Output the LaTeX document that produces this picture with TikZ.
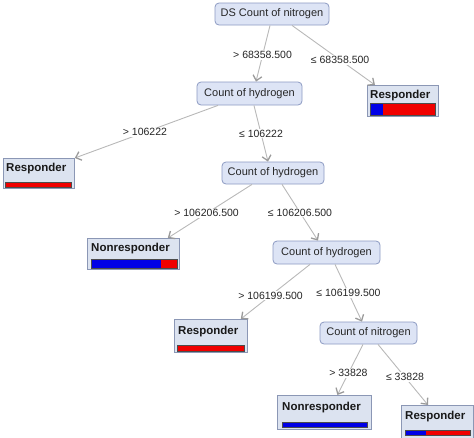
\documentclass[tikz,border=0pt]{standalone}
\usepackage{fontspec}
\setmainfont{Liberation Sans}
\usetikzlibrary{calc,arrows.meta}
\definecolor{ifill}{HTML}{DDE4F5}
\definecolor{idraw}{HTML}{8C9AC2}
\definecolor{lfill}{HTML}{DCE3F0}
\definecolor{ldraw}{HTML}{8B97B5}
\definecolor{edgec}{HTML}{B8B8B8}
\definecolor{tipc}{HTML}{9A9A9A}
\definecolor{barblue}{HTML}{0000E6}
\definecolor{barred}{HTML}{F00000}
\tikzset{
  inner/.style={draw=idraw, fill=ifill, rounded corners=4pt, line width=0.8pt,
    font=\fontsize{11}{12}\selectfont, text=black!85, inner sep=0pt},
  leaf/.style={draw=ldraw, fill=lfill, line width=0.8pt, inner sep=0pt},
  leaftext/.style={font=\fontsize{11.5}{12}\selectfont\bfseries, inner sep=0pt, anchor=north west, text=black!90},
  edge/.style={draw=edgec, line width=0.9pt, -{Straight Barb[length=5pt,width=9pt,line width=1.3pt,color=tipc]}},
  lbl/.style={fill=white, inner sep=1pt, font=\fontsize{10.5}{12}\selectfont, text=black!85},
  barline/.style={draw=black!70, line width=0.4pt}
}
\newcommand{\leafbar}[6]{%
  \fill[barred] ($(#1.south west)+(#2,-#3)$) rectangle ++(#4,-#5);
  \fill[barblue] ($(#1.south west)+(#2,-#3)$) rectangle ++(#6,-#5);
  \draw[barline] ($(#1.south west)+(#2,-#3)$) rectangle ++(#4,-#5);
}
\begin{document}
\begin{tikzpicture}[x=1pt,y=-1pt]
\useasboundingbox (0,0) rectangle (474,437);
% internal nodes
\node[inner, minimum width=114pt, minimum height=22pt] (root) at (272,14) {DS Count of nitrogen};
\node[inner, minimum width=105pt, minimum height=23pt] (h1) at (249.5,93.5) {Count of hydrogen};
\node[inner, minimum width=102pt, minimum height=22pt] (h2) at (273,173) {Count of hydrogen};
\node[inner, minimum width=107pt, minimum height=23pt] (h3) at (326.5,252.5) {Count of hydrogen};
\node[inner, minimum width=97pt, minimum height=22pt] (nit) at (368.5,333) {Count of nitrogen};
% leaves
\node[leaf, minimum width=71pt, minimum height=31pt, anchor=north west] (rr) at (367,85) {};
\node[leaftext] (rrt) at ($(rr.north west)+(3,5)$) {Responder};
\leafbar{rr}{3}{2}{65}{12}{13}
\node[leaf, minimum width=71pt, minimum height=30pt, anchor=north west] (rl) at (3,158) {};
\node[leaftext] (rlt) at ($(rl.north west)+(3,5)$) {Responder};
\leafbar{rl}{2}{2}{66}{5}{0}
\node[leaf, minimum width=92pt, minimum height=31pt, anchor=north west] (nr) at (87,238) {};
\node[leaftext] (nrt) at ($(nr.north west)+(4,5)$) {Nonresponder};
\leafbar{nr}{4}{2}{86}{9}{70}
\node[leaf, minimum width=73pt, minimum height=33pt, anchor=north west] (rm) at (174,319) {};
\node[leaftext] (rmt) at ($(rm.north west)+(4,7)$) {Responder};
\leafbar{rm}{3}{2}{67}{6}{0}
\node[leaf, minimum width=94pt, minimum height=34pt, anchor=north west] (nrb) at (277,395) {};
\node[leaftext] (nrbt) at ($(nrb.north west)+(5,7)$) {Nonresponder};
\leafbar{nrb}{5}{3}{85}{5}{85}
\node[leaf, minimum width=72pt, minimum height=33pt, anchor=north west] (rb) at (401,405) {};
\node[leaftext] (rbt) at ($(rb.north west)+(4,6)$) {Responder};
\leafbar{rb}{4}{4}{65}{5}{21}
% edges
\draw[edge] ($(root.south)+(-2,0)$) -- node[lbl,pos=.53] (l1) {> 68358.500} ($(h1.north)+(6.5,0)$);
\draw[edge] ($(root.south)+(20,0)$) -- node[lbl,pos=.58] (l2) {≤ 68358.500} ($(rr.north west)+(8,0)$);
\draw[edge] ($(h1.south)+(-31.5,0)$) -- node[lbl,pos=.51] (l3) {> 106222} (rl.north east);
\draw[edge] ($(h1.south)+(4.5,0)$) -- node[lbl,pos=.5] (l4) {≤ 106222} ($(h2.north)+(-5,0)$);
\draw[edge] ($(h2.south)+(-21,0)$) -- node[lbl,pos=.54] (l5) {> 106206.500} ($(nr.north east)+(-12,0)$);
\draw[edge] ($(h2.south)+(9,0)$) -- node[lbl,pos=.5] (l6) {≤ 106206.500} ($(h3.north)+(-8.5,0)$);
\draw[edge] ($(h3.south)+(-16.5,0)$) -- node[lbl,pos=.57] (l7) {> 106199.500} ($(rm.north east)+(-7,0)$);
\draw[edge] ($(h3.south)+(8.5,0)$) -- node[lbl,pos=.5] (l8) {≤ 106199.500} ($(nit.north)+(-6.5,0)$);
\draw[edge] ($(nit.south)+(-5.5,0)$) -- node[lbl,pos=.57] (l9) {> 33828} ($(nrb.north)+(13,0)$);
\draw[edge] ($(nit.south)+(9.5,0)$) -- node[lbl,pos=.54] (l10) {≤ 33828} ($(rb.north west)+(27,0)$);
\end{tikzpicture}
\end{document}
